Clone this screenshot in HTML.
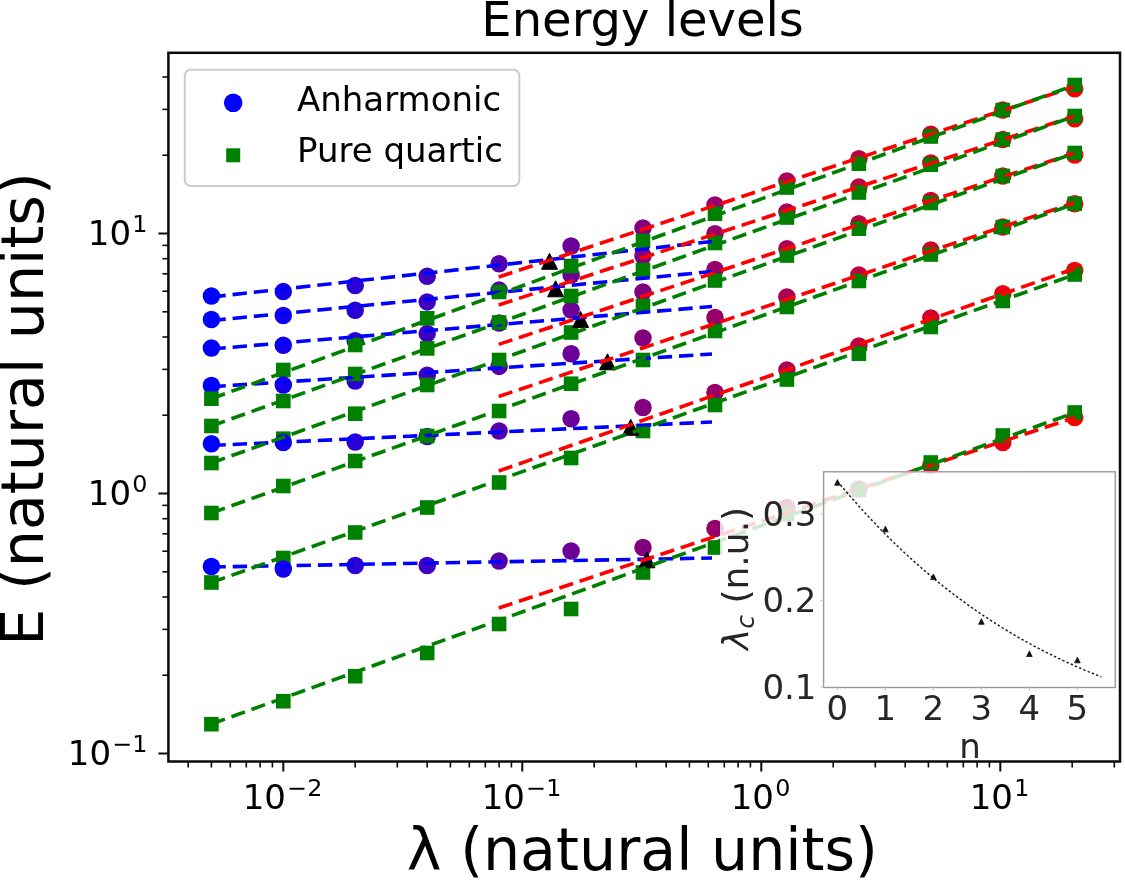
<!DOCTYPE html>
<html><head><meta charset="utf-8"><title>Energy levels</title>
<style>html,body{margin:0;padding:0;background:#fff;}body{width:1125px;height:880px;position:relative;overflow:hidden;}</style></head>
<body>
<svg width="1125" height="880" viewBox="0 0 1125 880" style="display:block;position:absolute;left:0;top:0;filter:blur(0.7px)">
<rect x="0" y="0" width="1125" height="880" fill="#fff"/>
<defs><clipPath id="axclip"><rect x="168.4" y="52.8" width="951.6" height="708.7"/></clipPath></defs>
<g clip-path="url(#axclip)">
<circle cx="211.4" cy="566.5" r="8.75" fill="rgb(0,0,255)"/>
<circle cx="211.4" cy="443.7" r="8.75" fill="rgb(0,0,255)"/>
<circle cx="211.4" cy="385.5" r="8.75" fill="rgb(0,0,255)"/>
<circle cx="211.4" cy="348.0" r="8.75" fill="rgb(0,0,255)"/>
<circle cx="211.4" cy="319.5" r="8.75" fill="rgb(0,0,255)"/>
<circle cx="211.4" cy="296.0" r="8.75" fill="rgb(0,0,255)"/>
<rect x="204.1" y="716.9" width="14.6" height="14.6" fill="#008000"/>
<rect x="204.1" y="575.2" width="14.6" height="14.6" fill="#008000"/>
<rect x="204.1" y="505.7" width="14.6" height="14.6" fill="#008000"/>
<rect x="204.1" y="455.7" width="14.6" height="14.6" fill="#008000"/>
<rect x="204.1" y="418.7" width="14.6" height="14.6" fill="#008000"/>
<rect x="204.1" y="391.4" width="14.6" height="14.6" fill="#008000"/>
<rect x="276.0" y="693.9" width="14.6" height="14.6" fill="#008000"/>
<rect x="276.0" y="550.7" width="14.6" height="14.6" fill="#008000"/>
<rect x="276.0" y="478.7" width="14.6" height="14.6" fill="#008000"/>
<rect x="276.0" y="431.4" width="14.6" height="14.6" fill="#008000"/>
<rect x="276.0" y="393.7" width="14.6" height="14.6" fill="#008000"/>
<rect x="276.0" y="362.7" width="14.6" height="14.6" fill="#008000"/>
<circle cx="283.3" cy="569.0" r="8.75" fill="rgb(21,0,234)"/>
<circle cx="283.3" cy="442.5" r="8.75" fill="rgb(21,0,234)"/>
<circle cx="283.3" cy="385.0" r="8.75" fill="rgb(21,0,234)"/>
<circle cx="283.3" cy="345.2" r="8.75" fill="rgb(21,0,234)"/>
<circle cx="283.3" cy="315.5" r="8.75" fill="rgb(21,0,234)"/>
<circle cx="283.3" cy="291.6" r="8.75" fill="rgb(21,0,234)"/>
<circle cx="355.2" cy="565.5" r="8.75" fill="rgb(42,0,212)"/>
<circle cx="355.2" cy="442.0" r="8.75" fill="rgb(42,0,212)"/>
<circle cx="355.2" cy="381.1" r="8.75" fill="rgb(42,0,212)"/>
<circle cx="355.2" cy="340.7" r="8.75" fill="rgb(42,0,212)"/>
<circle cx="355.2" cy="310.2" r="8.75" fill="rgb(42,0,212)"/>
<circle cx="355.2" cy="285.5" r="8.75" fill="rgb(42,0,212)"/>
<rect x="347.9" y="668.9" width="14.6" height="14.6" fill="#008000"/>
<rect x="347.9" y="525.2" width="14.6" height="14.6" fill="#008000"/>
<rect x="347.9" y="453.7" width="14.6" height="14.6" fill="#008000"/>
<rect x="347.9" y="406.4" width="14.6" height="14.6" fill="#008000"/>
<rect x="347.9" y="366.7" width="14.6" height="14.6" fill="#008000"/>
<rect x="347.9" y="337.7" width="14.6" height="14.6" fill="#008000"/>
<circle cx="427.2" cy="565.5" r="8.75" fill="rgb(64,0,191)"/>
<circle cx="427.2" cy="436.5" r="8.75" fill="rgb(64,0,191)"/>
<circle cx="427.2" cy="375.3" r="8.75" fill="rgb(64,0,191)"/>
<circle cx="427.2" cy="333.6" r="8.75" fill="rgb(64,0,191)"/>
<circle cx="427.2" cy="301.9" r="8.75" fill="rgb(64,0,191)"/>
<circle cx="427.2" cy="276.2" r="8.75" fill="rgb(64,0,191)"/>
<rect x="419.9" y="645.7" width="14.6" height="14.6" fill="#008000"/>
<rect x="419.9" y="500.2" width="14.6" height="14.6" fill="#008000"/>
<rect x="419.9" y="428.7" width="14.6" height="14.6" fill="#008000"/>
<rect x="419.9" y="377.7" width="14.6" height="14.6" fill="#008000"/>
<rect x="419.9" y="341.1" width="14.6" height="14.6" fill="#008000"/>
<rect x="419.9" y="311.0" width="14.6" height="14.6" fill="#008000"/>
<circle cx="499.1" cy="561.0" r="8.75" fill="rgb(85,0,170)"/>
<circle cx="499.1" cy="431.0" r="8.75" fill="rgb(85,0,170)"/>
<circle cx="499.1" cy="366.4" r="8.75" fill="rgb(85,0,170)"/>
<circle cx="499.1" cy="323.1" r="8.75" fill="rgb(85,0,170)"/>
<circle cx="499.1" cy="290.1" r="8.75" fill="rgb(85,0,170)"/>
<circle cx="499.1" cy="263.7" r="8.75" fill="rgb(85,0,170)"/>
<rect x="491.8" y="616.7" width="14.6" height="14.6" fill="#008000"/>
<rect x="491.8" y="475.2" width="14.6" height="14.6" fill="#008000"/>
<rect x="491.8" y="403.7" width="14.6" height="14.6" fill="#008000"/>
<rect x="491.8" y="352.7" width="14.6" height="14.6" fill="#008000"/>
<rect x="491.8" y="315.2" width="14.6" height="14.6" fill="#008000"/>
<rect x="491.8" y="284.7" width="14.6" height="14.6" fill="#008000"/>
<circle cx="571.1" cy="551.0" r="8.75" fill="rgb(106,0,149)"/>
<circle cx="571.1" cy="418.7" r="8.75" fill="rgb(106,0,149)"/>
<circle cx="571.1" cy="353.7" r="8.75" fill="rgb(106,0,149)"/>
<circle cx="571.1" cy="310.0" r="8.75" fill="rgb(106,0,149)"/>
<circle cx="571.1" cy="275.0" r="8.75" fill="rgb(106,0,149)"/>
<circle cx="571.1" cy="246.0" r="8.75" fill="rgb(106,0,149)"/>
<rect x="563.8" y="601.7" width="14.6" height="14.6" fill="#008000"/>
<rect x="563.8" y="450.7" width="14.6" height="14.6" fill="#008000"/>
<rect x="563.8" y="376.4" width="14.6" height="14.6" fill="#008000"/>
<rect x="563.8" y="325.2" width="14.6" height="14.6" fill="#008000"/>
<rect x="563.8" y="288.7" width="14.6" height="14.6" fill="#008000"/>
<rect x="563.8" y="258.7" width="14.6" height="14.6" fill="#008000"/>
<circle cx="643.0" cy="547.5" r="8.75" fill="rgb(128,0,128)"/>
<circle cx="643.0" cy="407.5" r="8.75" fill="rgb(128,0,128)"/>
<circle cx="643.0" cy="338.0" r="8.75" fill="rgb(128,0,128)"/>
<circle cx="643.0" cy="292.0" r="8.75" fill="rgb(128,0,128)"/>
<circle cx="643.0" cy="256.0" r="8.75" fill="rgb(128,0,128)"/>
<circle cx="643.0" cy="228.0" r="8.75" fill="rgb(128,0,128)"/>
<rect x="635.7" y="565.2" width="14.6" height="14.6" fill="#008000"/>
<rect x="635.7" y="423.7" width="14.6" height="14.6" fill="#008000"/>
<rect x="635.7" y="352.7" width="14.6" height="14.6" fill="#008000"/>
<rect x="635.7" y="298.7" width="14.6" height="14.6" fill="#008000"/>
<rect x="635.7" y="262.7" width="14.6" height="14.6" fill="#008000"/>
<rect x="635.7" y="233.7" width="14.6" height="14.6" fill="#008000"/>
<circle cx="715.0" cy="528.5" r="8.75" fill="rgb(149,0,106)"/>
<circle cx="715.0" cy="392.5" r="8.75" fill="rgb(149,0,106)"/>
<circle cx="715.0" cy="317.5" r="8.75" fill="rgb(149,0,106)"/>
<circle cx="715.0" cy="269.5" r="8.75" fill="rgb(149,0,106)"/>
<circle cx="715.0" cy="233.7" r="8.75" fill="rgb(149,0,106)"/>
<circle cx="715.0" cy="205.0" r="8.75" fill="rgb(149,0,106)"/>
<rect x="707.7" y="540.2" width="14.6" height="14.6" fill="#008000"/>
<rect x="707.7" y="397.7" width="14.6" height="14.6" fill="#008000"/>
<rect x="707.7" y="323.7" width="14.6" height="14.6" fill="#008000"/>
<rect x="707.7" y="273.2" width="14.6" height="14.6" fill="#008000"/>
<rect x="707.7" y="235.7" width="14.6" height="14.6" fill="#008000"/>
<rect x="707.7" y="206.4" width="14.6" height="14.6" fill="#008000"/>
<circle cx="786.9" cy="507.5" r="8.75" fill="rgb(170,0,85)"/>
<circle cx="786.9" cy="370.0" r="8.75" fill="rgb(170,0,85)"/>
<circle cx="786.9" cy="297.0" r="8.75" fill="rgb(170,0,85)"/>
<circle cx="786.9" cy="248.7" r="8.75" fill="rgb(170,0,85)"/>
<circle cx="786.9" cy="212.0" r="8.75" fill="rgb(170,0,85)"/>
<circle cx="786.9" cy="181.0" r="8.75" fill="rgb(170,0,85)"/>
<rect x="779.6" y="506.7" width="14.6" height="14.6" fill="#008000"/>
<rect x="779.6" y="372.2" width="14.6" height="14.6" fill="#008000"/>
<rect x="779.6" y="299.7" width="14.6" height="14.6" fill="#008000"/>
<rect x="779.6" y="248.2" width="14.6" height="14.6" fill="#008000"/>
<rect x="779.6" y="210.2" width="14.6" height="14.6" fill="#008000"/>
<rect x="779.6" y="180.2" width="14.6" height="14.6" fill="#008000"/>
<circle cx="858.9" cy="489.0" r="8.75" fill="rgb(191,0,64)"/>
<circle cx="858.9" cy="346.0" r="8.75" fill="rgb(191,0,64)"/>
<circle cx="858.9" cy="275.0" r="8.75" fill="rgb(191,0,64)"/>
<circle cx="858.9" cy="223.7" r="8.75" fill="rgb(191,0,64)"/>
<circle cx="858.9" cy="187.0" r="8.75" fill="rgb(191,0,64)"/>
<circle cx="858.9" cy="158.7" r="8.75" fill="rgb(191,0,64)"/>
<rect x="851.6" y="482.7" width="14.6" height="14.6" fill="#008000"/>
<rect x="851.6" y="346.4" width="14.6" height="14.6" fill="#008000"/>
<rect x="851.6" y="273.7" width="14.6" height="14.6" fill="#008000"/>
<rect x="851.6" y="221.4" width="14.6" height="14.6" fill="#008000"/>
<rect x="851.6" y="185.2" width="14.6" height="14.6" fill="#008000"/>
<rect x="851.6" y="156.4" width="14.6" height="14.6" fill="#008000"/>
<circle cx="930.8" cy="465.5" r="8.75" fill="rgb(212,0,42)"/>
<circle cx="930.8" cy="318.0" r="8.75" fill="rgb(212,0,42)"/>
<circle cx="930.8" cy="250.0" r="8.75" fill="rgb(212,0,42)"/>
<circle cx="930.8" cy="200.5" r="8.75" fill="rgb(212,0,42)"/>
<circle cx="930.8" cy="163.0" r="8.75" fill="rgb(212,0,42)"/>
<circle cx="930.8" cy="134.2" r="8.75" fill="rgb(212,0,42)"/>
<rect x="923.5" y="455.2" width="14.6" height="14.6" fill="#008000"/>
<rect x="923.5" y="319.7" width="14.6" height="14.6" fill="#008000"/>
<rect x="923.5" y="247.2" width="14.6" height="14.6" fill="#008000"/>
<rect x="923.5" y="195.7" width="14.6" height="14.6" fill="#008000"/>
<rect x="923.5" y="157.4" width="14.6" height="14.6" fill="#008000"/>
<rect x="923.5" y="129.2" width="14.6" height="14.6" fill="#008000"/>
<circle cx="1002.8" cy="442.5" r="8.75" fill="rgb(234,0,21)"/>
<circle cx="1002.8" cy="293.7" r="8.75" fill="rgb(234,0,21)"/>
<circle cx="1002.8" cy="227.0" r="8.75" fill="rgb(234,0,21)"/>
<circle cx="1002.8" cy="176.0" r="8.75" fill="rgb(234,0,21)"/>
<circle cx="1002.8" cy="139.5" r="8.75" fill="rgb(234,0,21)"/>
<circle cx="1002.8" cy="110.0" r="8.75" fill="rgb(234,0,21)"/>
<rect x="995.5" y="428.2" width="14.6" height="14.6" fill="#008000"/>
<rect x="995.5" y="293.7" width="14.6" height="14.6" fill="#008000"/>
<rect x="995.5" y="219.7" width="14.6" height="14.6" fill="#008000"/>
<rect x="995.5" y="168.7" width="14.6" height="14.6" fill="#008000"/>
<rect x="995.5" y="132.2" width="14.6" height="14.6" fill="#008000"/>
<rect x="995.5" y="102.7" width="14.6" height="14.6" fill="#008000"/>
<circle cx="1074.7" cy="417.5" r="8.75" fill="rgb(255,0,0)"/>
<circle cx="1074.7" cy="270.5" r="8.75" fill="rgb(255,0,0)"/>
<circle cx="1074.7" cy="203.7" r="8.75" fill="rgb(255,0,0)"/>
<circle cx="1074.7" cy="155.0" r="8.75" fill="rgb(255,0,0)"/>
<circle cx="1074.7" cy="118.7" r="8.75" fill="rgb(255,0,0)"/>
<circle cx="1074.7" cy="88.7" r="8.75" fill="rgb(255,0,0)"/>
<rect x="1067.4" y="405.2" width="14.6" height="14.6" fill="#008000"/>
<rect x="1067.4" y="267.2" width="14.6" height="14.6" fill="#008000"/>
<rect x="1067.4" y="196.4" width="14.6" height="14.6" fill="#008000"/>
<rect x="1067.4" y="145.7" width="14.6" height="14.6" fill="#008000"/>
<rect x="1067.4" y="108.7" width="14.6" height="14.6" fill="#008000"/>
<rect x="1067.4" y="77.7" width="14.6" height="14.6" fill="#008000"/>
<polygon points="647.0,551.8 639.0,567.8 655.0,567.8" fill="#000" stroke="#000" stroke-width="1" stroke-linejoin="miter"/>
<polygon points="630.7,419.3 622.7,435.3 638.7,435.3" fill="#000" stroke="#000" stroke-width="1" stroke-linejoin="miter"/>
<polygon points="607.5,353.8 599.5,369.8 615.5,369.8" fill="#000" stroke="#000" stroke-width="1" stroke-linejoin="miter"/>
<polygon points="580.6,311.5 572.6,327.5 588.6,327.5" fill="#000" stroke="#000" stroke-width="1" stroke-linejoin="miter"/>
<polygon points="555.6,280.8 547.6,296.8 563.6,296.8" fill="#000" stroke="#000" stroke-width="1" stroke-linejoin="miter"/>
<polygon points="549.5,253.3 541.5,269.3 557.5,269.3" fill="#000" stroke="#000" stroke-width="1" stroke-linejoin="miter"/>
<line x1="211.4" y1="567.0" x2="712.0" y2="558.0" stroke="#0000ff" stroke-width="3.6" stroke-dasharray="14.4 6.9"/>
<line x1="211.4" y1="445.5" x2="712.0" y2="422.0" stroke="#0000ff" stroke-width="3.6" stroke-dasharray="14.4 6.9"/>
<line x1="211.4" y1="386.7" x2="712.0" y2="354.0" stroke="#0000ff" stroke-width="3.6" stroke-dasharray="14.4 6.9"/>
<line x1="211.4" y1="349.0" x2="712.0" y2="306.5" stroke="#0000ff" stroke-width="3.6" stroke-dasharray="14.4 6.9"/>
<line x1="211.4" y1="320.5" x2="712.0" y2="271.5" stroke="#0000ff" stroke-width="3.6" stroke-dasharray="14.4 6.9"/>
<line x1="211.4" y1="297.0" x2="712.0" y2="241.5" stroke="#0000ff" stroke-width="3.6" stroke-dasharray="14.4 6.9"/>
<line x1="498.7" y1="608.0" x2="1075.0" y2="417.5" stroke="#ff0000" stroke-width="3.6" stroke-dasharray="14.4 6.9"/>
<line x1="498.7" y1="471.0" x2="1075.0" y2="268.5" stroke="#ff0000" stroke-width="3.6" stroke-dasharray="14.4 6.9"/>
<line x1="498.7" y1="396.5" x2="1075.0" y2="202.5" stroke="#ff0000" stroke-width="3.6" stroke-dasharray="14.4 6.9"/>
<line x1="498.7" y1="344.4" x2="1075.0" y2="152.8" stroke="#ff0000" stroke-width="3.6" stroke-dasharray="14.4 6.9"/>
<line x1="498.7" y1="305.0" x2="1075.0" y2="116.0" stroke="#ff0000" stroke-width="3.6" stroke-dasharray="14.4 6.9"/>
<line x1="498.7" y1="277.0" x2="1075.0" y2="86.5" stroke="#ff0000" stroke-width="3.6" stroke-dasharray="14.4 6.9"/>
<line x1="211.4" y1="724.0" x2="1075.0" y2="412.5" stroke="#008000" stroke-width="3.6" stroke-dasharray="14.4 6.9"/>
<line x1="211.4" y1="582.5" x2="1075.0" y2="274.5" stroke="#008000" stroke-width="3.6" stroke-dasharray="14.4 6.9"/>
<line x1="211.4" y1="513.0" x2="1075.0" y2="203.7" stroke="#008000" stroke-width="3.6" stroke-dasharray="14.4 6.9"/>
<line x1="211.4" y1="463.0" x2="1075.0" y2="153.0" stroke="#008000" stroke-width="3.6" stroke-dasharray="14.4 6.9"/>
<line x1="211.4" y1="426.0" x2="1075.0" y2="116.0" stroke="#008000" stroke-width="3.6" stroke-dasharray="14.4 6.9"/>
<line x1="211.4" y1="398.7" x2="1075.0" y2="85.0" stroke="#008000" stroke-width="3.6" stroke-dasharray="14.4 6.9"/>
</g>
<rect x="720" y="471" width="400.0" height="290.5" fill="#fff" fill-opacity="0.82"/>
<rect x="823.6" y="471.8" width="291.7" height="215.7" fill="none" stroke="#9a9a9a" stroke-width="1.4"/>
<polyline points="837.4,481.3 839.8,484.2 842.2,487.0 844.6,489.8 847.0,492.6 849.4,495.4 851.8,498.2 854.2,500.9 856.6,503.6 859.0,506.3 861.4,508.9 863.8,511.6 866.2,514.2 868.6,516.7 871.0,519.3 873.4,521.8 875.8,524.4 878.2,526.9 880.6,529.3 883.0,531.8 885.4,534.2 887.8,536.6 890.2,539.0 892.6,541.3 895.0,543.7 897.4,546.0 899.8,548.3 902.2,550.5 904.6,552.8 907.0,555.0 909.4,557.2 911.8,559.4 914.2,561.6 916.6,563.7 919.0,565.8 921.4,567.9 923.8,570.0 926.2,572.1 928.6,574.1 931.0,576.2 933.4,578.2 935.8,580.1 938.2,582.1 940.6,584.0 943.0,586.0 945.4,587.9 947.8,589.8 950.2,591.6 952.6,593.5 955.0,595.3 957.4,597.1 959.8,598.9 962.2,600.7 964.6,602.4 967.0,604.2 969.4,605.9 971.8,607.6 974.2,609.3 976.6,611.0 979.0,612.6 981.4,614.2 983.8,615.8 986.2,617.4 988.6,619.0 991.0,620.6 993.4,622.1 995.8,623.7 998.2,625.2 1000.6,626.7 1003.0,628.2 1005.4,629.6 1007.8,631.1 1010.2,632.5 1012.6,634.0 1015.0,635.4 1017.4,636.8 1019.8,638.1 1022.2,639.5 1024.6,640.8 1027.0,642.2 1029.4,643.5 1031.8,644.8 1034.2,646.1 1036.6,647.3 1039.0,648.6 1041.4,649.9 1043.8,651.1 1046.2,652.3 1048.6,653.5 1051.0,654.7 1053.4,655.9 1055.8,657.0 1058.2,658.2 1060.6,659.3 1063.0,660.5 1065.4,661.6 1067.8,662.7 1070.2,663.8 1072.6,664.8 1075.0,665.9 1077.4,667.0 1079.8,668.0 1082.2,669.0 1084.6,670.1 1087.0,671.1 1089.4,672.1 1091.8,673.0 1094.2,674.0 1096.6,675.0 1099.0,675.9 1101.4,676.9" fill="none" stroke="#222" stroke-width="1.5" stroke-dasharray="2.4 2.2"/>
<polygon points="837.4,479.6 834.6,485.2 840.2,485.2" fill="#111" stroke="#111" stroke-width="0.8"/>
<polygon points="885.4,526.2 882.6,531.8 888.2,531.8" fill="#111" stroke="#111" stroke-width="0.8"/>
<polygon points="933.4,574.0 930.6,579.6 936.2,579.6" fill="#111" stroke="#111" stroke-width="0.8"/>
<polygon points="981.4,618.7 978.6,624.3 984.2,624.3" fill="#111" stroke="#111" stroke-width="0.8"/>
<polygon points="1029.4,650.9 1026.6,656.5 1032.2,656.5" fill="#111" stroke="#111" stroke-width="0.8"/>
<polygon points="1077.4,657.2 1074.6,662.8 1080.2,662.8" fill="#111" stroke="#111" stroke-width="0.8"/>
<line x1="837.4" y1="687.5" x2="837.4" y2="690.5" stroke="#c4c4c4" stroke-width="1.2"/>
<line x1="885.4" y1="687.5" x2="885.4" y2="690.5" stroke="#c4c4c4" stroke-width="1.2"/>
<line x1="933.4" y1="687.5" x2="933.4" y2="690.5" stroke="#c4c4c4" stroke-width="1.2"/>
<line x1="981.4" y1="687.5" x2="981.4" y2="690.5" stroke="#c4c4c4" stroke-width="1.2"/>
<line x1="1029.4" y1="687.5" x2="1029.4" y2="690.5" stroke="#c4c4c4" stroke-width="1.2"/>
<line x1="1077.4" y1="687.5" x2="1077.4" y2="690.5" stroke="#c4c4c4" stroke-width="1.2"/>
<line x1="820.6" y1="686.8" x2="823.6" y2="686.8" stroke="#c4c4c4" stroke-width="1.2"/>
<line x1="820.6" y1="600.3" x2="823.6" y2="600.3" stroke="#c4c4c4" stroke-width="1.2"/>
<line x1="820.6" y1="513.8" x2="823.6" y2="513.8" stroke="#c4c4c4" stroke-width="1.2"/>
<g font-family="'DejaVu Sans','Liberation Sans',sans-serif" fill="#262626">
<text x="837.4" y="720" font-size="34.0" text-anchor="middle">0</text>
<text x="885.4" y="720" font-size="34.0" text-anchor="middle">1</text>
<text x="933.4" y="720" font-size="34.0" text-anchor="middle">2</text>
<text x="981.4" y="720" font-size="34.0" text-anchor="middle">3</text>
<text x="1029.4" y="720" font-size="34.0" text-anchor="middle">4</text>
<text x="1077.4" y="720" font-size="34.0" text-anchor="middle">5</text>
<text x="816.5" y="698.8" font-size="34.0" text-anchor="end">0.1</text>
<text x="816.5" y="612.3" font-size="34.0" text-anchor="end">0.2</text>
<text x="816.5" y="525.8" font-size="34.0" text-anchor="end">0.3</text>
<text x="970" y="758" font-size="34.0" text-anchor="middle">n</text>
<text transform="translate(747.5,578.5) rotate(-90)" font-size="36.0" text-anchor="middle"><tspan font-style="italic">λ</tspan><tspan font-style="italic" font-size="25.2" dy="6.5">c</tspan><tspan dy="-6.5"> (n.u.)</tspan></text>
</g>
<rect x="168.4" y="52.8" width="951.6" height="708.7" fill="none" stroke="#0a0a0a" stroke-width="2.5"/>
<line x1="188.2" y1="761.5" x2="188.2" y2="767.5" stroke="#0a0a0a" stroke-width="1.6"/>
<line x1="211.4" y1="761.5" x2="211.4" y2="767.5" stroke="#0a0a0a" stroke-width="1.6"/>
<line x1="230.3" y1="761.5" x2="230.3" y2="767.5" stroke="#0a0a0a" stroke-width="1.6"/>
<line x1="246.3" y1="761.5" x2="246.3" y2="767.5" stroke="#0a0a0a" stroke-width="1.6"/>
<line x1="260.1" y1="761.5" x2="260.1" y2="767.5" stroke="#0a0a0a" stroke-width="1.6"/>
<line x1="272.4" y1="761.5" x2="272.4" y2="767.5" stroke="#0a0a0a" stroke-width="1.6"/>
<line x1="283.3" y1="761.5" x2="283.3" y2="771.5" stroke="#0a0a0a" stroke-width="2.0"/>
<line x1="355.2" y1="761.5" x2="355.2" y2="767.5" stroke="#0a0a0a" stroke-width="1.6"/>
<line x1="397.3" y1="761.5" x2="397.3" y2="767.5" stroke="#0a0a0a" stroke-width="1.6"/>
<line x1="427.2" y1="761.5" x2="427.2" y2="767.5" stroke="#0a0a0a" stroke-width="1.6"/>
<line x1="450.4" y1="761.5" x2="450.4" y2="767.5" stroke="#0a0a0a" stroke-width="1.6"/>
<line x1="469.3" y1="761.5" x2="469.3" y2="767.5" stroke="#0a0a0a" stroke-width="1.6"/>
<line x1="485.3" y1="761.5" x2="485.3" y2="767.5" stroke="#0a0a0a" stroke-width="1.6"/>
<line x1="499.1" y1="761.5" x2="499.1" y2="767.5" stroke="#0a0a0a" stroke-width="1.6"/>
<line x1="511.4" y1="761.5" x2="511.4" y2="767.5" stroke="#0a0a0a" stroke-width="1.6"/>
<line x1="522.3" y1="761.5" x2="522.3" y2="771.5" stroke="#0a0a0a" stroke-width="2.0"/>
<line x1="594.2" y1="761.5" x2="594.2" y2="767.5" stroke="#0a0a0a" stroke-width="1.6"/>
<line x1="636.3" y1="761.5" x2="636.3" y2="767.5" stroke="#0a0a0a" stroke-width="1.6"/>
<line x1="666.2" y1="761.5" x2="666.2" y2="767.5" stroke="#0a0a0a" stroke-width="1.6"/>
<line x1="689.4" y1="761.5" x2="689.4" y2="767.5" stroke="#0a0a0a" stroke-width="1.6"/>
<line x1="708.3" y1="761.5" x2="708.3" y2="767.5" stroke="#0a0a0a" stroke-width="1.6"/>
<line x1="724.3" y1="761.5" x2="724.3" y2="767.5" stroke="#0a0a0a" stroke-width="1.6"/>
<line x1="738.1" y1="761.5" x2="738.1" y2="767.5" stroke="#0a0a0a" stroke-width="1.6"/>
<line x1="750.4" y1="761.5" x2="750.4" y2="767.5" stroke="#0a0a0a" stroke-width="1.6"/>
<line x1="761.3" y1="761.5" x2="761.3" y2="771.5" stroke="#0a0a0a" stroke-width="2.0"/>
<line x1="833.2" y1="761.5" x2="833.2" y2="767.5" stroke="#0a0a0a" stroke-width="1.6"/>
<line x1="875.3" y1="761.5" x2="875.3" y2="767.5" stroke="#0a0a0a" stroke-width="1.6"/>
<line x1="905.2" y1="761.5" x2="905.2" y2="767.5" stroke="#0a0a0a" stroke-width="1.6"/>
<line x1="928.4" y1="761.5" x2="928.4" y2="767.5" stroke="#0a0a0a" stroke-width="1.6"/>
<line x1="947.3" y1="761.5" x2="947.3" y2="767.5" stroke="#0a0a0a" stroke-width="1.6"/>
<line x1="963.3" y1="761.5" x2="963.3" y2="767.5" stroke="#0a0a0a" stroke-width="1.6"/>
<line x1="977.1" y1="761.5" x2="977.1" y2="767.5" stroke="#0a0a0a" stroke-width="1.6"/>
<line x1="989.4" y1="761.5" x2="989.4" y2="767.5" stroke="#0a0a0a" stroke-width="1.6"/>
<line x1="1000.3" y1="761.5" x2="1000.3" y2="771.5" stroke="#0a0a0a" stroke-width="2.0"/>
<line x1="1072.2" y1="761.5" x2="1072.2" y2="767.5" stroke="#0a0a0a" stroke-width="1.6"/>
<line x1="1114.3" y1="761.5" x2="1114.3" y2="767.5" stroke="#0a0a0a" stroke-width="1.6"/>
<line x1="158.4" y1="753.5" x2="168.4" y2="753.5" stroke="#0a0a0a" stroke-width="2.0"/>
<line x1="162.4" y1="675.2" x2="168.4" y2="675.2" stroke="#0a0a0a" stroke-width="1.6"/>
<line x1="162.4" y1="629.4" x2="168.4" y2="629.4" stroke="#0a0a0a" stroke-width="1.6"/>
<line x1="162.4" y1="597.0" x2="168.4" y2="597.0" stroke="#0a0a0a" stroke-width="1.6"/>
<line x1="162.4" y1="571.8" x2="168.4" y2="571.8" stroke="#0a0a0a" stroke-width="1.6"/>
<line x1="162.4" y1="551.2" x2="168.4" y2="551.2" stroke="#0a0a0a" stroke-width="1.6"/>
<line x1="162.4" y1="533.8" x2="168.4" y2="533.8" stroke="#0a0a0a" stroke-width="1.6"/>
<line x1="162.4" y1="518.7" x2="168.4" y2="518.7" stroke="#0a0a0a" stroke-width="1.6"/>
<line x1="162.4" y1="505.4" x2="168.4" y2="505.4" stroke="#0a0a0a" stroke-width="1.6"/>
<line x1="158.4" y1="493.5" x2="168.4" y2="493.5" stroke="#0a0a0a" stroke-width="2.0"/>
<line x1="162.4" y1="415.2" x2="168.4" y2="415.2" stroke="#0a0a0a" stroke-width="1.6"/>
<line x1="162.4" y1="369.4" x2="168.4" y2="369.4" stroke="#0a0a0a" stroke-width="1.6"/>
<line x1="162.4" y1="337.0" x2="168.4" y2="337.0" stroke="#0a0a0a" stroke-width="1.6"/>
<line x1="162.4" y1="311.8" x2="168.4" y2="311.8" stroke="#0a0a0a" stroke-width="1.6"/>
<line x1="162.4" y1="291.2" x2="168.4" y2="291.2" stroke="#0a0a0a" stroke-width="1.6"/>
<line x1="162.4" y1="273.8" x2="168.4" y2="273.8" stroke="#0a0a0a" stroke-width="1.6"/>
<line x1="162.4" y1="258.7" x2="168.4" y2="258.7" stroke="#0a0a0a" stroke-width="1.6"/>
<line x1="162.4" y1="245.4" x2="168.4" y2="245.4" stroke="#0a0a0a" stroke-width="1.6"/>
<line x1="158.4" y1="233.5" x2="168.4" y2="233.5" stroke="#0a0a0a" stroke-width="2.0"/>
<line x1="162.4" y1="155.2" x2="168.4" y2="155.2" stroke="#0a0a0a" stroke-width="1.6"/>
<line x1="162.4" y1="109.4" x2="168.4" y2="109.4" stroke="#0a0a0a" stroke-width="1.6"/>
<line x1="162.4" y1="77.0" x2="168.4" y2="77.0" stroke="#0a0a0a" stroke-width="1.6"/>
<g font-family="'DejaVu Sans','Liberation Sans',sans-serif" fill="#000">
<text x="282.5" y="809.2" font-size="34.0" text-anchor="middle">10<tspan font-size="23.8" dy="-13.6" dx="1.3">−2</tspan></text>
<text x="521.5" y="809.2" font-size="34.0" text-anchor="middle">10<tspan font-size="23.8" dy="-13.6" dx="1.3">−1</tspan></text>
<text x="760.5" y="809.2" font-size="34.0" text-anchor="middle">10<tspan font-size="23.8" dy="-13.6" dx="1.3">0</tspan></text>
<text x="999.5" y="809.2" font-size="34.0" text-anchor="middle">10<tspan font-size="23.8" dy="-13.6" dx="1.3">1</tspan></text>
<text x="147.5" y="765.1" font-size="34.0" text-anchor="end">10<tspan font-size="23.8" dy="-13.6" dx="1.3">−1</tspan></text>
<text x="147.5" y="505.1" font-size="34.0" text-anchor="end">10<tspan font-size="23.8" dy="-13.6" dx="1.3">0</tspan></text>
<text x="147.5" y="245.1" font-size="34.0" text-anchor="end">10<tspan font-size="23.8" dy="-13.6" dx="1.3">1</tspan></text>
<text x="642.6" y="36" font-size="48" text-anchor="middle">Energy levels</text>
<text x="642.4" y="870" font-size="58.6" text-anchor="middle">λ (natural units)</text>
<text transform="translate(42.7,409) rotate(-90)" font-size="58.6" text-anchor="middle">E (natural units)</text>
</g>
<rect x="184.8" y="69.8" width="334.5" height="116.2" rx="6" ry="6" fill="#fff" fill-opacity="0.8" stroke="#cccccc" stroke-width="2"/>
<circle cx="233.2" cy="102.8" r="9.3" fill="#0000ff"/>
<rect x="226.2" y="148.3" width="14" height="14" fill="#008000"/>
<g font-family="'DejaVu Sans','Liberation Sans',sans-serif" fill="#000" font-size="34">
<text x="297" y="111">Anharmonic</text>
<text x="297" y="162">Pure quartic</text>
</g>
</svg>
</body></html>
